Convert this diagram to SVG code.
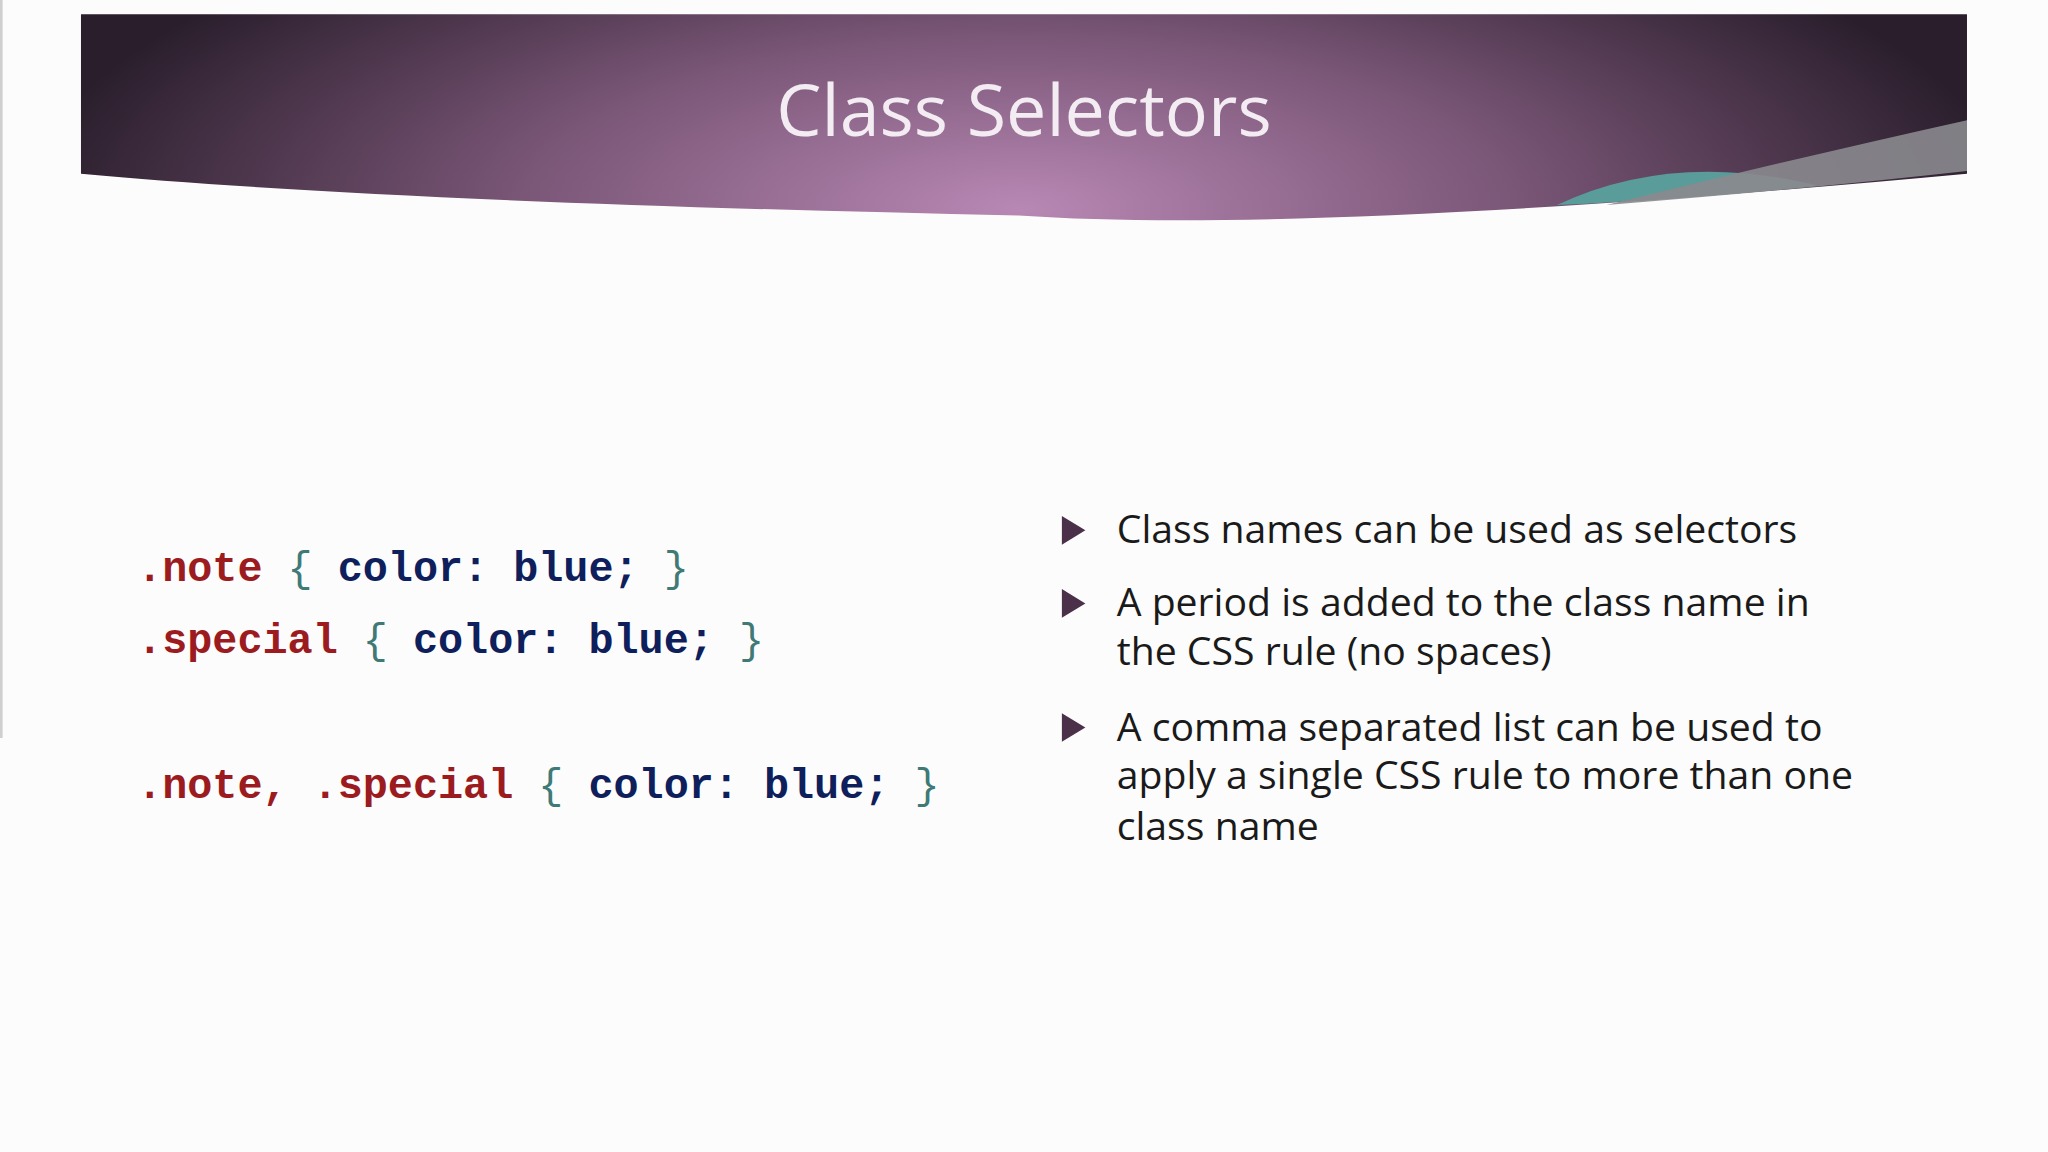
<svg xmlns="http://www.w3.org/2000/svg" width="2048" height="1152" viewBox="0 0 2048 1152">
<defs>
<radialGradient id="hg" cx="780" cy="160" r="760" gradientUnits="userSpaceOnUse" gradientTransform="translate(780 160) scale(1 0.35) translate(-780 -160)">
<stop offset="0" stop-color="#b888b4"/><stop offset="0.5" stop-color="#7a5677"/><stop offset="1" stop-color="#2a1e2c"/>
</radialGradient>
<style>
.code{font-family:"Liberation Mono",monospace;font-weight:bold;font-size:32px}
.sel{fill:#9b1b1f}.br{fill:#3f7a76;font-weight:normal}.pr{fill:#0e1f5c}
.bt{font-family:"Open Sans","Noto Sans",sans-serif;font-size:30px;fill:#1a1a1a}
.tri{fill:#4a3048}
</style>
</defs>
<rect width="2048" height="1152" fill="#fdfcfc"/>
<g transform="scale(1.3061)">
<rect x="0" y="0" width="2" height="565" fill="#cfcfcf"/>
<g id="header">
<path d="M62 11 H1506 V133 Q1000 180 780 165 Q300 155 62 133 Z" fill="url(#hg)"/>
<path d="M1192 157 Q1280 115 1392 142 Q1300 152 1192 157 Z" fill="#5a9c9a"/>
<path d="M1230 157 Q1380 120 1506 92 V131 Q1380 145 1230 157 Z" fill="#8a8a8e" opacity="0.9"/>
<text x="784" y="104" text-anchor="middle" font-family="Open Sans,Noto Sans,sans-serif" font-size="55" fill="#f3ecf2">Class Selectors</text>
</g>
<g id="code">
<text class="code" x="105" y="445" xml:space="preserve"><tspan class="sel">.note</tspan><tspan class="br"> { </tspan><tspan class="pr">color: blue; </tspan><tspan class="br">}</tspan></text>
<text class="code" x="105" y="500" xml:space="preserve"><tspan class="sel">.special</tspan><tspan class="br"> { </tspan><tspan class="pr">color: blue; </tspan><tspan class="br">}</tspan></text>
<text class="code" x="105" y="611" xml:space="preserve"><tspan class="sel">.note, .special</tspan><tspan class="br"> { </tspan><tspan class="pr">color: blue; </tspan><tspan class="br">}</tspan></text>
</g>
<g id="bullets">
<polygon class="tri" points="813,395 831,406 813,417"/>
<polygon class="tri" points="813,451 831,462 813,473"/>
<polygon class="tri" points="813,546 831,557 813,568"/>
<text class="bt" x="855" y="416">Class names can be used as selectors</text>
<text class="bt" x="855" y="472">A period is added to the class name in</text>
<text class="bt" x="855" y="509">the CSS rule (no spaces)</text>
<text class="bt" x="855" y="567">A comma separated list can be used to</text>
<text class="bt" x="855" y="604">apply a single CSS rule to more than one</text>
<text class="bt" x="855" y="643">class name</text>
</g>
</g>
</svg>
